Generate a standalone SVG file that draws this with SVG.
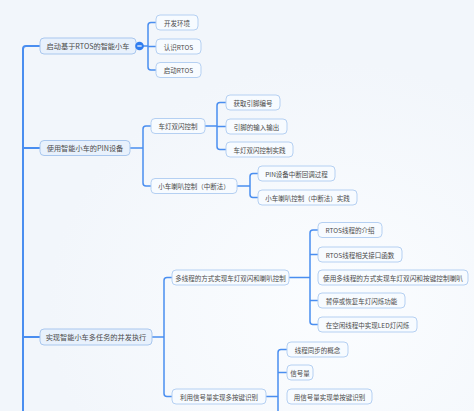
<svg xmlns="http://www.w3.org/2000/svg" width="474" height="411" viewBox="0 0 474 411">
<defs>
<radialGradient id="bg" cx="0.7" cy="0.75" r="0.6">
<stop offset="0" stop-color="#fbfdff"/>
<stop offset="1" stop-color="#f2f6fb"/>
</radialGradient>
<style>
.c{fill:none;stroke:#4a8ef0;stroke-width:1.5}
.r{fill:none;stroke:#4a8ef0;stroke-width:2}
.n rect{fill:#f7fbff;stroke:#b5d0f2;stroke-width:1}
.m rect{fill:#e8f1fc;stroke:#a9c7ee;stroke-width:1}
text{font-family:"Noto Sans CJK SC","Noto Sans",sans-serif;fill:#4a4a4a;text-anchor:middle;dominant-baseline:central}
.n text{font-size:6.5px}
.m text{font-size:7.2px}
</style>
</defs>
<rect width="474" height="411" fill="url(#bg)"/>
<g id="connectors">
<path class="r" d="M23,411 V49 Q23,46 26,46 H40 M23,148 H40 M23,337 H40"/>
<path class="c" d="M143,46 H148 M156,22.5 H151 Q148,22.5 148,25.5 V67 Q148,70 151,70 H156 M148,46.5 H156"/>
<path class="c" d="M130,148 H143 M151,126 H146 Q143,126 143,129 V183 Q143,186 146,186 H151"/>
<path class="c" d="M205,126 H217 M226,102.5 H220 Q217,102.5 217,105.5 V146.5 Q217,149.5 220,149.5 H226 M217,126.5 H226"/>
<path class="c" d="M237,186 H250 M258,173.5 H253 Q250,173.5 250,176.5 V194.5 Q250,197.5 253,197.5 H258"/>
<path class="c" d="M152,337 H164 M172,277.5 H167 Q164,277.5 164,280.5 V393.5 Q164,396.5 167,396.5 H172"/>
<path class="c" d="M289,277.5 H310 M318,230 H313 Q310,230 310,233 V321.5 Q310,324.5 313,324.5 H318 M310,254.5 H318 M310,300.5 H318"/>
<path class="c" d="M266,396.5 H278 M287,349.5 H281 Q278,349.5 278,352.5 V411 M278,372.5 H287"/>
</g>
<g id="n1" class="m"><rect x="40" y="38" width="96" height="16" rx="4"/><text x="88" y="46">启动基于RTOS的智能小车</text></g>
<g id="collapse"><circle cx="139.5" cy="46" r="4.3" fill="#2f7df0"/><path d="M137.3,46 H141.7" stroke="#fff" stroke-width="1.2"/></g>
<g id="n1a" class="n"><rect x="156" y="15" width="42" height="15" rx="4"/><text x="177" y="22.5">开发环境</text></g>
<g id="n1b" class="n"><rect x="156" y="39" width="45" height="15" rx="4"/><text x="178.5" y="46.5">认识RTOS</text></g>
<g id="n1c" class="n"><rect x="156" y="62.5" width="45" height="15" rx="4"/><text x="178.5" y="70">启动RTOS</text></g>
<g id="n2" class="m"><rect x="40" y="140.5" width="90" height="15" rx="4"/><text x="85" y="148">使用智能小车的PIN设备</text></g>
<g id="n2a" class="n"><rect x="151" y="118.5" width="54" height="15" rx="4"/><text x="178" y="126">车灯双闪控制</text></g>
<g id="n2a1" class="n"><rect x="226" y="95" width="54" height="15" rx="4"/><text x="253" y="102.5">获取引脚编号</text></g>
<g id="n2a2" class="n"><rect x="226" y="119" width="61" height="15" rx="4"/><text x="256.5" y="126.5">引脚的输入输出</text></g>
<g id="n2a3" class="n"><rect x="226" y="142" width="67" height="15" rx="4"/><text x="259.5" y="149.5">车灯双闪控制实践</text></g>
<g id="n2b" class="n"><rect x="151" y="178.5" width="86" height="15" rx="4"/><text x="194" y="186">小车喇叭控制（中断法）</text></g>
<g id="n2b1" class="n"><rect x="258" y="166" width="77" height="15" rx="4"/><text x="296.5" y="173.5">PIN设备中断回调过程</text></g>
<g id="n2b2" class="n"><rect x="258" y="190" width="99" height="15" rx="4"/><text x="307.5" y="197.5">小车喇叭控制（中断法）实践</text></g>
<g id="n3" class="m"><rect x="40" y="329" width="112" height="16" rx="4"/><text x="96" y="337">实现智能小车多任务的并发执行</text></g>
<g id="n3a" class="n"><rect x="172" y="270" width="117" height="15" rx="4"/><text x="230.5" y="277.5">多线程的方式实现车灯双闪和喇叭控制</text></g>
<g id="n3a1" class="n"><rect x="318" y="222.5" width="64" height="15" rx="4"/><text x="350" y="230">RTOS线程的介绍</text></g>
<g id="n3a2" class="n"><rect x="318" y="247" width="84" height="15" rx="4"/><text x="360" y="254.5">RTOS线程相关接口函数</text></g>
<g id="n3a3" class="n"><rect x="318" y="270" width="150" height="15" rx="4"/><text x="393" y="277.5" textLength="140" lengthAdjust="spacingAndGlyphs">使用多线程的方式实现车灯双闪和按键控制喇叭</text></g>
<g id="n3a4" class="n"><rect x="318" y="293" width="87" height="15" rx="4"/><text x="361.5" y="300.5">暂停或恢复车灯闪烁功能</text></g>
<g id="n3a5" class="n"><rect x="318" y="317" width="99" height="15" rx="4"/><text x="367.5" y="324.5">在空闲线程中实现LED灯闪烁</text></g>
<g id="n3b" class="n"><rect x="172" y="389" width="94" height="15" rx="4"/><text x="219" y="396.5">利用信号量实现多按键识别</text></g>
<g id="n3b1" class="n"><rect x="287" y="342" width="61" height="15" rx="4"/><text x="317.5" y="349.5">线程同步的概念</text></g>
<g id="n3b2" class="n"><rect x="287" y="365" width="26" height="15" rx="4"/><text x="300" y="372.5">信号量</text></g>
<g id="n3b3" class="n"><rect x="287" y="389" width="85" height="15" rx="4"/><text x="329.5" y="396.5">用信号量实现单按键识别</text></g>
</svg>
